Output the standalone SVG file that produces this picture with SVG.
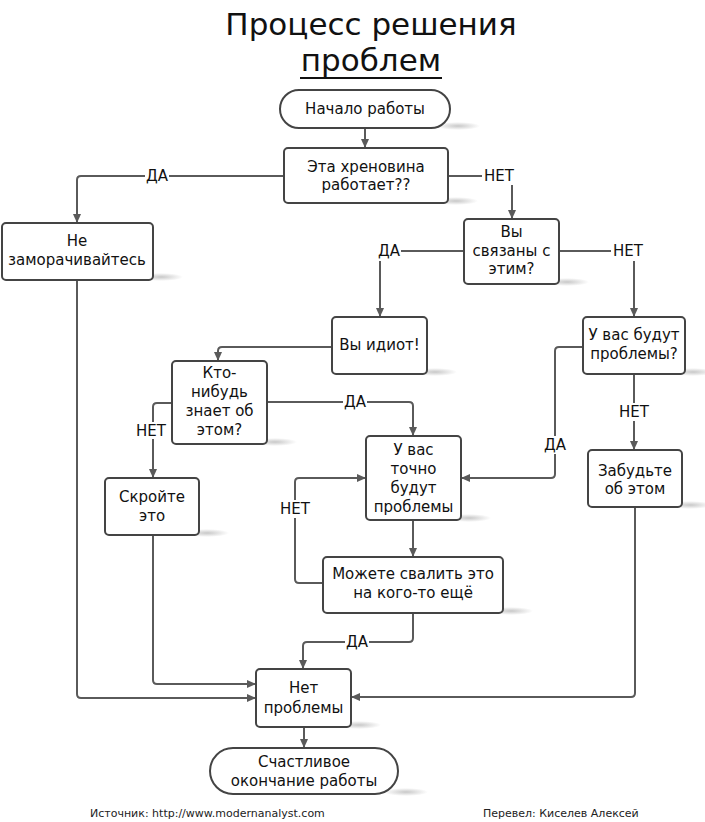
<svg xmlns="http://www.w3.org/2000/svg" width="705" height="822" viewBox="0 0 705 822">
<style>
  text { font-family: "DejaVu Sans", Verdana, sans-serif; fill: #111; }
  .title { font-size: 31px; text-anchor: middle; }
  .t { font-size: 15px; text-anchor: middle; }
  .lbl { font-size: 15px; text-anchor: middle; }
  .foot { font-size: 11px; fill: #222; }
  .box { fill: #fff; stroke: #444; stroke-width: 2; }
  .conn { fill: none; stroke: #5a5a5a; stroke-width: 2; }
  .lblbg { fill: #fff; }
  .shadow { fill: url(#sh); }
</style>
<defs>
  <marker id="arr" markerWidth="9" markerHeight="8" refX="9" refY="4" orient="auto" markerUnits="userSpaceOnUse">
    <path d="M0,0 L9,4 L0,8 Z" fill="#5a5a5a"/>
  </marker>
  <radialGradient id="sh">
    <stop offset="0" stop-color="#c8c8c8"/>
    <stop offset="1" stop-color="#c8c8c8" stop-opacity="0"/>
  </radialGradient>
</defs>
<rect width="705" height="822" fill="#fff"/>

<g id="title">
  <text class="title" x="371" y="35">Процесс решения</text>
  <text class="title" x="371" y="71">проблем</text>
  <rect x="300" y="77" width="142" height="2" fill="#111"/>
</g>

<g id="shadows">
  <ellipse class="shadow" cx="458" cy="126" rx="22" ry="4"/>
  <ellipse class="shadow" cx="456" cy="201" rx="22" ry="4"/>
  <ellipse class="shadow" cx="161" cy="277" rx="22" ry="4"/>
  <ellipse class="shadow" cx="567" cy="282" rx="22" ry="4"/>
  <ellipse class="shadow" cx="435" cy="372" rx="22" ry="4"/>
  <ellipse class="shadow" cx="693" cy="372" rx="22" ry="4"/>
  <ellipse class="shadow" cx="275" cy="442" rx="22" ry="4"/>
  <ellipse class="shadow" cx="207" cy="533" rx="22" ry="4"/>
  <ellipse class="shadow" cx="469" cy="518" rx="22" ry="4"/>
  <ellipse class="shadow" cx="690" cy="505" rx="22" ry="4"/>
  <ellipse class="shadow" cx="511" cy="611" rx="22" ry="4"/>
  <ellipse class="shadow" cx="359" cy="725" rx="22" ry="4"/>
  <ellipse class="shadow" cx="406" cy="792" rx="22" ry="4"/>
</g>

<g id="connectors">
  <path class="conn" marker-end="url(#arr)" d="M365,128 V148"/>
  <path class="conn" marker-end="url(#arr)" d="M284,176 H81 Q77,176 77,180 V223"/>
  <path class="conn" marker-end="url(#arr)" d="M448,176 H508 Q512,176 512,180 V219"/>
  <path class="conn" marker-end="url(#arr)" d="M464,251 H384 Q380,251 380,255 V317"/>
  <path class="conn" marker-end="url(#arr)" d="M559,251 H630 Q634,251 634,255 V317"/>
  <path class="conn" marker-end="url(#arr)" d="M332,347 H222 Q218,347 218,351 V361"/>
  <path class="conn" marker-end="url(#arr)" d="M267,402 H409 Q413,402 413,406 V436"/>
  <path class="conn" marker-end="url(#arr)" d="M172,403 H157 Q153,403 153,407 V478"/>
  <path class="conn" marker-end="url(#arr)" d="M634,374 V450"/>
  <path class="conn" marker-end="url(#arr)" d="M583,347 H559 Q555,347 555,351 V474 Q555,478 551,478 H461"/>
  <path class="conn" marker-end="url(#arr)" d="M413,520 V557"/>
  <path class="conn" marker-end="url(#arr)" d="M323,583 H299 Q295,583 295,579 V482 Q295,478 299,478 H366"/>
  <path class="conn" marker-end="url(#arr)" d="M413,613 V638 Q413,642 409,642 H307 Q303,642 303,646 V669"/>
  <path class="conn" marker-end="url(#arr)" d="M635,507 V693 Q635,697 631,697 H351"/>
  <path class="conn" marker-end="url(#arr)" d="M153,535 V680 Q153,684 157,684 H256"/>
  <path class="conn" marker-end="url(#arr)" d="M77,280 V694 Q77,698 81,698 H256"/>
  <path class="conn" marker-end="url(#arr)" d="M304,727 V748"/>
</g>

<g id="labels">
  <rect class="lblbg" x="145" y="168" width="24" height="16"/>
  <text class="lbl" x="157" y="181">ДА</text>
  <rect class="lblbg" x="482" y="168" width="34" height="17"/>
  <text class="lbl" x="499" y="181">НЕТ</text>
  <rect class="lblbg" x="377" y="243" width="24" height="18"/>
  <text class="lbl" x="389" y="256">ДА</text>
  <rect class="lblbg" x="611" y="243" width="34" height="18"/>
  <text class="lbl" x="628" y="256">НЕТ</text>
  <rect class="lblbg" x="343" y="394" width="24" height="16"/>
  <text class="lbl" x="355" y="407">ДА</text>
  <rect class="lblbg" x="134" y="422" width="34" height="17"/>
  <text class="lbl" x="151" y="436">НЕТ</text>
  <rect class="lblbg" x="617" y="403" width="34" height="18"/>
  <text class="lbl" x="634" y="417">НЕТ</text>
  <rect class="lblbg" x="543" y="436" width="24" height="18"/>
  <text class="lbl" x="555" y="450">ДА</text>
  <rect class="lblbg" x="278" y="500" width="34" height="18"/>
  <text class="lbl" x="295" y="514">НЕТ</text>
  <rect class="lblbg" x="345" y="634" width="24" height="16"/>
  <text class="lbl" x="357" y="647">ДА</text>
</g>

<g id="n-start">
  <rect class="box" x="280" y="90" width="170" height="38" rx="19"/>
  <text class="t" x="365" y="114">Начало работы</text>
</g>
<g id="n-works">
  <rect class="box" x="284" y="148" width="164" height="55" rx="4"/>
  <text class="t" x="366" y="172">Эта хреновина</text>
  <text class="t" x="366" y="190">работает??</text>
</g>
<g id="n-dontmess">
  <rect class="box" x="2" y="223" width="151" height="57" rx="4"/>
  <text class="t" x="77" y="246">Не</text>
  <text class="t" x="77" y="265">заморачивайтесь</text>
</g>
<g id="n-related">
  <rect class="box" x="464" y="219" width="95" height="65" rx="4"/>
  <text class="t" x="511.5" y="237">Вы</text>
  <text class="t" x="511.5" y="256">связаны с</text>
  <text class="t" x="511.5" y="274">этим?</text>
</g>
<g id="n-idiot">
  <rect class="box" x="332" y="317" width="95" height="57" rx="4"/>
  <text class="t" x="379.5" y="350">Вы идиот!</text>
</g>
<g id="n-trouble-q">
  <rect class="box" x="583" y="317" width="102" height="57" rx="4"/>
  <text class="t" x="634" y="340">У вас будут</text>
  <text class="t" x="634" y="359">проблемы?</text>
</g>
<g id="n-anyone">
  <rect class="box" x="172" y="361" width="95" height="83" rx="4"/>
  <text class="t" x="219.5" y="378">Кто-</text>
  <text class="t" x="219.5" y="397">нибудь</text>
  <text class="t" x="219.5" y="416">знает об</text>
  <text class="t" x="219.5" y="435">этом?</text>
</g>
<g id="n-hide">
  <rect class="box" x="105" y="478" width="94" height="57" rx="4"/>
  <text class="t" x="152" y="502">Скройте</text>
  <text class="t" x="152" y="521">это</text>
</g>
<g id="n-trouble">
  <rect class="box" x="366" y="436" width="95" height="84" rx="4"/>
  <text class="t" x="413.5" y="455">У вас</text>
  <text class="t" x="413.5" y="474">точно</text>
  <text class="t" x="413.5" y="493">будут</text>
  <text class="t" x="413.5" y="512">проблемы</text>
</g>
<g id="n-forget">
  <rect class="box" x="588" y="450" width="94" height="57" rx="4"/>
  <text class="t" x="635" y="476">Забудьте</text>
  <text class="t" x="635" y="494">об этом</text>
</g>
<g id="n-blame">
  <rect class="box" x="323" y="557" width="180" height="56" rx="4"/>
  <text class="t" x="413" y="579">Можете свалить это</text>
  <text class="t" x="413" y="598">на кого-то ещё</text>
</g>
<g id="n-noproblem">
  <rect class="box" x="256" y="669" width="95" height="58" rx="4"/>
  <text class="t" x="303.5" y="693">Нет</text>
  <text class="t" x="303.5" y="713">проблемы</text>
</g>
<g id="n-end">
  <rect class="box" x="210" y="748" width="188" height="46" rx="23"/>
  <text class="t" x="304" y="767">Счастливое</text>
  <text class="t" x="304" y="786">окончание работы</text>
</g>

<g id="footer">
  <text class="foot" x="90" y="817">Источник: http://www.modernanalyst.com</text>
  <text class="foot" x="483" y="817">Перевел: Киселев Алексей</text>
</g>
</svg>
